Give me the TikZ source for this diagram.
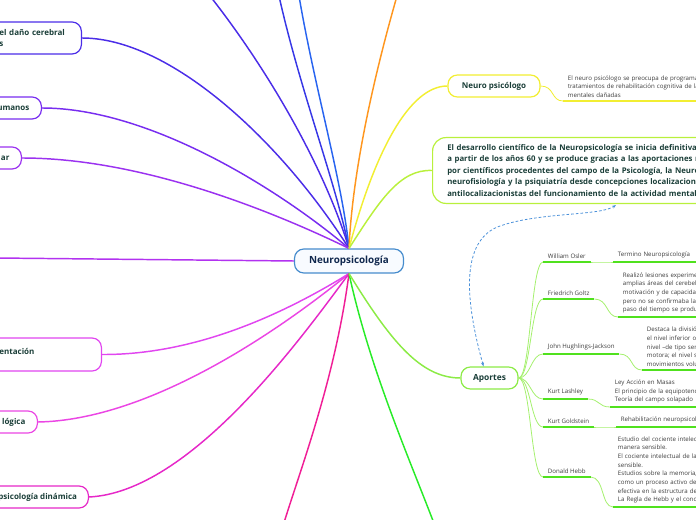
\documentclass[tikz,border=0pt]{standalone}
\usepackage{fontspec}
\setmainfont{Open Sans}
\usepackage{xcolor}
\definecolor{hubBlue}{RGB}{70, 140, 205}
\definecolor{hubFill}{RGB}{248, 251, 255}
\definecolor{hubText}{RGB}{16, 40, 78}
\definecolor{topicText}{RGB}{26, 62, 56}
\definecolor{leafText}{RGB}{60, 60, 60}
\definecolor{violetA}{RGB}{75, 45, 232}
\definecolor{blueB}{RGB}{55, 55, 230}
\definecolor{blueC}{RGB}{40, 100, 240}
\definecolor{violetB}{RGB}{120, 45, 240}
\definecolor{violetC}{RGB}{155, 50, 240}
\definecolor{violetD}{RGB}{178, 50, 240}
\definecolor{magA}{RGB}{225, 70, 240}
\definecolor{magB}{RGB}{235, 70, 228}
\definecolor{magC}{RGB}{230, 40, 200}
\definecolor{pinkE}{RGB}{240, 30, 150}
\definecolor{orangeF}{RGB}{255, 150, 30}
\definecolor{yel}{RGB}{242, 238, 50}
\definecolor{ygreen}{RGB}{185, 240, 60}
\definecolor{lgreen}{RGB}{140, 235, 70}
\definecolor{greenG}{RGB}{40, 235, 40}
\definecolor{leafGreen}{RGB}{80, 225, 30}
\definecolor{twigGreen}{RGB}{165, 240, 110}
\definecolor{linkBlue}{RGB}{74, 144, 217}
\usetikzlibrary{arrows.meta, positioning, calc}

\begin{document}
\begin{tikzpicture}[x=0.75pt, y=-0.75pt,
    hub/.style={draw=hubBlue, fill=hubFill, line width=0.9pt, rounded corners=7pt, minimum width=81.75pt, minimum height=18pt, font=\fontsize{7.4}{8}\selectfont\bfseries, text=hubText},
    topic/.style={fill=white, line width=0.9pt, rounded corners=7pt, minimum height=16.5pt, inner xsep=9pt, font=\fontsize{6}{8.2}\selectfont\bfseries, text=topicText, anchor=east},
    branch/.style={line width=1.1pt},
    leaf/.style={anchor=south west, align=left, inner xsep=3.5pt, inner ysep=2.5pt, font=\fontsize{4.6}{6.5}\selectfont, text=leafText},
    underl/.style={draw=leafGreen, line width=1.5pt},
    twig/.style={draw=twigGreen, line width=0.6pt}
]
\useasboundingbox (0,0) rectangle (696,520);
\clip (0,0) rectangle (696,520);

% central topic
\node[hub] (neuro) at (349,261) {Neuropsicología};

% topics cut by the left edge
\node[topic, draw=violetA, text width=52.5pt, align=left, minimum height=24pt] (dano) at (82,38) {el daño cerebral\\s};
\node[topic, draw=violetB] (humanos) at (42,108) {umanos};
\node[topic, draw=violetC] (lar) at (22,158) {ar};
\node[topic, draw=magA, text width=67.5pt, align=left, minimum height=24.75pt, text height=8pt, text depth=8.75pt, inner ysep=4pt] (orient) at (102,354.5) {entación};
\node[topic, draw=magB] (logica) at (38,422) {lógica};
\node[topic, draw=magC, inner xsep=8.5pt] (dinamica) at (89,497) {psicología dinámica};

% free ends of branches leaving the page
\coordinate (topA) at (210,-4);
\coordinate (topB) at (279,-4);
\coordinate (topC) at (299,-4);
\coordinate (topD) at (397,-4);
\coordinate (leftE) at (-4,258);
\coordinate (botF) at (283,526);
\coordinate (botG) at (435,526);

\draw[branch, violetA] (topA) .. controls (262,62) and (322,160) .. (neuro.north);
\draw[branch, blueB] (topB) .. controls (300,90) and (335,180) .. (neuro.north);
\draw[branch, blueC] (topC) .. controls (315,90) and (342,180) .. (neuro.north);
\draw[branch, orangeF] (topD) .. controls (370,90) and (352,180) .. (neuro.north);
\draw[branch, violetA] (dano.east) .. controls (170,38) and (280,140) .. (neuro.north);
\draw[branch, violetB] (humanos.east) .. controls (150,108) and (280,190) .. (neuro.north);
\draw[branch, violetC] (lar.east) .. controls (140,158) and (270,210) .. (neuro.north);
\draw[branch, violetD] (leftE) -- (neuro.west);
\draw[branch, magA] (orient.east) .. controls (200,355) and (290,310) .. (neuro.south);
\draw[branch, magB] (logica.east) .. controls (150,420) and (280,330) .. (neuro.south);
\draw[branch, magC] (dinamica.east) .. controls (190,492) and (300,340) .. (neuro.south);
\draw[branch, pinkE] (neuro.south) .. controls (335,380) and (300,470) .. (botF);
\draw[branch, greenG] (neuro.south) .. controls (370,370) and (410,460) .. (botG);

% right side topics
\node[topic, draw=yel, anchor=center, minimum width=69pt] (psico) at (494,86) {Neuro psicólogo};
\node[draw=ygreen, line width=0.9pt, rounded corners=10pt, anchor=north west, align=left, text width=300pt, inner xsep=11pt, inner ysep=5.2pt, font=\fontsize{5.85}{8.6}\selectfont\bfseries, text=topicText] (desa) at (432,137)
    {El desarrollo científico de la Neuropsicología se inicia definitivamente\\
     a partir de los años 60 y se produce gracias a las aportaciones realizadas\\
     por científicos procedentes del campo de la Psicología, la Neurología, la\\
     neurofisiología y la psiquiatría desde concepciones localizacionistas y\\
     antilocalizacionistas del funcionamiento de la actividad mental.};
\node[topic, draw=lgreen, anchor=center, minimum width=42.75pt, font=\fontsize{6.3}{8}\selectfont\bfseries] (aport) at (489.5,378) {Aportes};

\draw[branch, yel] (neuro.north) .. controls (375,150) and (410,86) .. (psico.west);
\draw[branch, ygreen] (neuro.north) .. controls (380,200) and (400,169) .. (desa.west);
\draw[branch, lgreen] (neuro.south) .. controls (390,340) and (420,378) .. (aport.west);

\draw[dashed, dash pattern=on 2pt off 1.5pt, draw=linkBlue, line width=0.6pt, {Stealth[length=3pt]}-{Stealth[length=3pt]}]
    ([xshift=-4.5pt]aport.north) .. controls (465,300) and (460,240) .. (500,226)
    .. controls (540,212) and (600,216) .. ($(desa.south west)+(184,1)$);

% Neuro psicologo leaf
\node[leaf, text width=130pt] (psicoT) at (563,101) {El neuro psicólogo se preocupa de programar\\tratamientos de rehabilitación cognitiva de las\\mentales dañadas};
\draw[draw=yel, line width=0.6pt] (psico.east) .. controls +(14,0) and +(-12,0) .. (psicoT.south west);
\draw[draw=yel, line width=1.5pt] (psicoT.south west) -- (psicoT.south east);

% Aportes leaves
\node[leaf] (osler) at (543,262) {William Osler};
\node[leaf, text width=120pt] (oslerT) at (613,262) {Termino Neuropsicología};
\node[leaf] (goltz) at (543,299) {Friedrich Goltz};
\node[leaf, text width=120pt] (goltzT) at (618,317) {Realizó lesiones experimentales en\\amplias áreas del cerebelo\\motivación y de capacidad de\\pero no se confirmaba la de\\paso del tiempo se producía};
\node[leaf] (jackson) at (543,354) {John Hughlings-Jackson};
\node[leaf, text width=120pt] (jacksonT) at (642,370) {Destaca la división\\el nivel inferior o el\\nivel –de tipo sensorial\\motora; el nivel superior\\movimientos voluntarios};
\node[leaf] (lashley) at (543,399) {Kurt Lashley};
\node[leaf, text width=120pt] (lashleyT) at (610,407) {Ley Acción en Masas\\El principio de la equipotencialidad\\Teoría del campo solapado};
\node[leaf] (goldstein) at (543,427) {Kurt Goldstein};
\node[leaf, text width=120pt] (goldsteinT) at (616,427) {Rehabilitación neuropsicológica};
\node[leaf] (hebb) at (543,477) {Donald Hebb};
\node[leaf, text width=120pt] (hebbT) at (613,507) {Estudio del cociente intelectual\\manera sensible.\\El cociente intelectual de las\\sensible.\\Estudios sobre la memoria, como\\como un proceso activo de cambio\\efectiva en la estructura del\\La Regla de Hebb y el concepto};

\draw[twig] (aport.east) .. controls +(12,0) and +(-12,0) .. (osler.south west);
\draw[twig] (aport.east) .. controls +(12,0) and +(-12,0) .. (goltz.south west);
\draw[twig] (aport.east) .. controls +(12,0) and +(-12,0) .. (jackson.south west);
\draw[twig] (aport.east) .. controls +(12,0) and +(-12,0) .. (lashley.south west);
\draw[twig] (aport.east) .. controls +(12,0) and +(-12,0) .. (goldstein.south west);
\draw[twig] (aport.east) .. controls +(12,0) and +(-12,0) .. (hebb.south west);

\draw[twig] (osler.south east) .. controls +(10,0) and +(-10,0) .. (oslerT.south west);
\draw[twig] (goltz.south east) .. controls +(14,0) and +(-12,0) .. (goltzT.south west);
\draw[twig] (jackson.south east) .. controls +(14,0) and +(-12,0) .. (jacksonT.south west);
\draw[twig] (lashley.south east) .. controls +(12,0) and +(-12,0) .. (lashleyT.south west);
\draw[twig] (goldstein.south east) .. controls +(10,0) and +(-10,0) .. (goldsteinT.south west);
\draw[twig] (hebb.south east) .. controls +(14,0) and +(-12,0) .. (hebbT.south west);

\draw[underl] (osler.south west) -- (osler.south east);
\draw[underl] (oslerT.south west) -- (oslerT.south east);
\draw[underl] (goltz.south west) -- (goltz.south east);
\draw[underl] (goltzT.south west) -- (goltzT.south east);
\draw[underl] (jackson.south west) -- (jackson.south east);
\draw[underl] (jacksonT.south west) -- (jacksonT.south east);
\draw[underl] (lashley.south west) -- (lashley.south east);
\draw[underl] (lashleyT.south west) -- (lashleyT.south east);
\draw[underl] (goldstein.south west) -- (goldstein.south east);
\draw[underl] (goldsteinT.south west) -- (goldsteinT.south east);
\draw[underl] (hebb.south west) -- (hebb.south east);
\draw[underl] (hebbT.south west) -- (hebbT.south east);
\end{tikzpicture}
\end{document}
